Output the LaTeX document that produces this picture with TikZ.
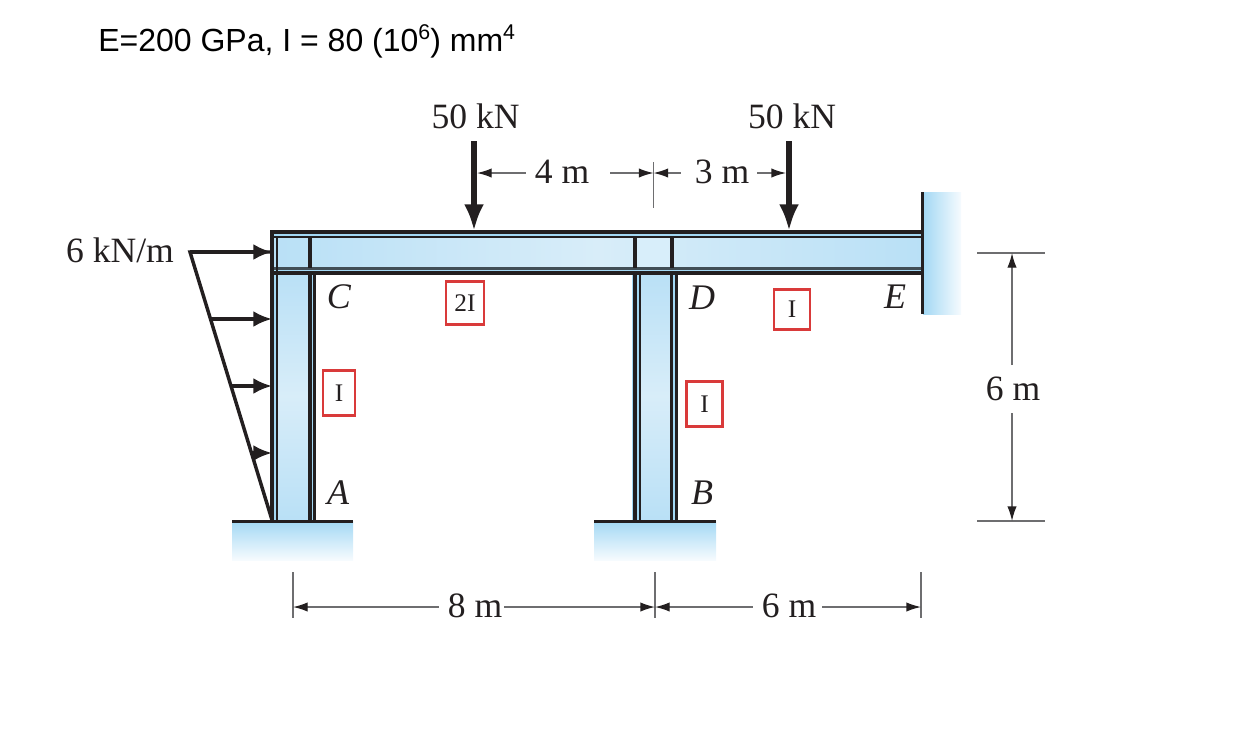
\documentclass[tikz,border=0pt]{standalone}
\usepackage{fontspec}
\setmainfont{Liberation Serif}
\newfontfamily\hdfont{Liberation Sans}
\usetikzlibrary{arrows.meta}
\definecolor{ink}{HTML}{231F20}
\definecolor{dimc}{HTML}{6E6E70}
\definecolor{boxred}{HTML}{D93A3A}
\definecolor{sky}{HTML}{B9E0F6}
\definecolor{skypale}{HTML}{D8EDF9}
\definecolor{skydeep}{HTML}{A3D8F4}
\definecolor{skyfade}{HTML}{F6FBFE}
\newcommand{\hdsup}[1]{\raisebox{0.36em}{\fontsize{16}{18}\selectfont #1}}
\tikzset{
  x=0.75pt,y=-0.75pt,
  barline/.style={fill=ink,draw=none},
  lbl/.style={font=\fontsize{26.7}{30}\selectfont,text=ink,inner sep=0pt},
  pointlbl/.style={font=\fontsize{27}{30}\selectfont\itshape,text=ink,inner sep=0pt},
  redbox/.style={draw=boxred,line width=2.2pt,fill=white,inner sep=0pt,font=\fontsize{19}{22}\selectfont,text=ink},
  dimline/.style={draw=dimc,line width=1pt,-{Latex[length=11pt,width=7pt,color=ink]}},
  dimtick/.style={draw=dimc,line width=1pt},
  loadline/.style={draw=ink,line width=2.6pt,-{Latex[length=14pt,width=12pt]}},
  bigarrow/.style={draw=ink,line width=4.8pt,-{Latex[length=20pt,width=15pt]}},
}
\begin{document}
\begin{tikzpicture}
\useasboundingbox (0,0) rectangle (1238,740);
\node[anchor=base west,inner sep=0pt,font=\hdfont\fontsize{24}{26}\selectfont] (head) at (98,51) {E=200 GPa, I = 80 (10\hdsup{6}) mm\hdsup{4}};

% supports
\shade[top color=skydeep,bottom color=skyfade] (232,521) rectangle (353,560);
\shade[top color=skydeep,bottom color=skyfade] (594,521) rectangle (716,560);
\shade[left color=skydeep,right color=skyfade] (923,192) rectangle (961,314);

% columns
\fill[skydeep] (270,272) rectangle (316,520);
\fill[skydeep] (632,272) rectangle (678,520);
\shade[top color=sky,bottom color=sky,middle color=skypale] (277,272) rectangle (309,520);
\shade[top color=sky,bottom color=sky,middle color=skypale] (639,272) rectangle (671,520);
% beam
\fill[skydeep] (270,230) rectangle (922,275);
\shade[left color=sky,right color=sky,middle color=skypale] (274,238) rectangle (922,268);
\fill[white!45!sky] (636,238) rectangle (671,268);

% beam flanges
\fill[barline] (270,230) rectangle (922,233.6);
\fill[barline] (272,236) rectangle (922,238.3);
\fill[black!65!sky] (274,267) rectangle (922,269.5);
\fill[barline] (270,271.3) rectangle (922,275);
\fill[barline] (270,230) rectangle (274,275);
% joint stiffeners
\fill[barline] (276,236) rectangle (277.7,271.5);
\fill[barline] (308,236) rectangle (312,268);
\fill[barline] (632.5,236) rectangle (636.7,268);
\fill[barline] (670,236) rectangle (674,268);
% column webs
\foreach \xa/\xb in {270/274,276/278,308/312,313.3/316.3,632.5/636.7,639/641,670/673.3,675.3/678}
  \fill[barline] (\xa,271.5) rectangle (\xb,520);

% seats
\fill[barline] (232,519.5) rectangle (353,522.5);
\fill[barline] (594,519.5) rectangle (716,522.5);
\fill[barline] (921,192) rectangle (924,314);

% point labels
\node[pointlbl] (C) at (339,297) {C};
\node[pointlbl] (A) at (338,493) {A};
\node[pointlbl] (D) at (702,298) {D};
\node[pointlbl] (B) at (702,493) {B};
\node[pointlbl] (E) at (895,297) {E};

% section boxes
\node[redbox,minimum width=28.5pt,minimum height=32pt] (boxtwo) at (465,303) {2I};
\node[redbox,minimum width=27pt,minimum height=29.5pt] (boxde) at (792,309.5) {I};
\node[redbox,minimum width=24pt,minimum height=33.5pt] (boxac) at (339,393) {I};
\node[redbox,minimum width=26.5pt,minimum height=33.5pt] (boxbd) at (704.5,404) {I};

% distributed load
\coordinate (qtop) at (190,252);
\coordinate (qbot) at (272,520);
\coordinate (q1) at (272,252);
\coordinate (q2) at (272,319);
\coordinate (q3) at (272,386);
\coordinate (q4) at (272,453);
\coordinate (s2) at (210.5,319);
\coordinate (s3) at (231,386);
\coordinate (s4) at (251.5,453);
\draw[draw=ink,line width=2.6pt,line join=miter] (q1) -- (qtop) -- (qbot);
\draw[loadline] (qtop) -- (q1);
\draw[loadline] (s2) -- (q2);
\draw[loadline] (s3) -- (q3);
\draw[loadline] (s4) -- (q4);
\node[lbl] (qlab) at (120,250) {6 kN/m};

% point loads
\coordinate (p1s) at (474,141);
\coordinate (p1e) at (474,231);
\coordinate (p2s) at (789,141);
\coordinate (p2e) at (789,231);
\draw[bigarrow] (p1s) -- (p1e);
\draw[bigarrow] (p2s) -- (p2e);
\node[lbl] (load1) at (475.5,116) {50 kN};
\node[lbl] (load2) at (792,116) {50 kN};

% top dimensions
\node[lbl] (dim4) at (562,172) {4 m};
\node[lbl] (dim3) at (722,172) {3 m};
\coordinate (t1) at (653.5,162);
\coordinate (t2) at (653.5,208);
\coordinate (tm) at (653.5,173);
\coordinate (ta) at (477,173);
\coordinate (tb) at (786,173);
\draw[dimtick] (t1) -- (t2);
\draw[dimline] (dim4.west |- tm) ++(-9,0) coordinate (l4) -- (ta);
\draw[dimline] (dim4.east |- tm) ++(21,0) coordinate (r4) -- (tm);
\draw[dimline] (dim3.west |- tm) ++(-14,0) coordinate (l3) -- (tm);
\draw[dimline] (dim3.east |- tm) ++(8,0) coordinate (r3) -- (tb);

% bottom dimensions
\node[lbl] (dim8) at (475,606) {8 m};
\node[lbl] (dim6b) at (789,606) {6 m};
\coordinate (b1a) at (293,572); \coordinate (b1b) at (293,618);
\coordinate (b2a) at (655,572); \coordinate (b2b) at (655,618);
\coordinate (b3a) at (921,572); \coordinate (b3b) at (921,618);
\draw[dimtick] (b1a) -- (b1b);
\draw[dimtick] (b2a) -- (b2b);
\draw[dimtick] (b3a) -- (b3b);
\coordinate (bl) at (293,607); \coordinate (bm) at (655,607); \coordinate (br) at (921,607);
\draw[dimline] (dim8.west |- bl) ++(-9,0) coordinate (l8) -- (bl);
\draw[dimline] (dim8.east |- bl) ++(2,0) coordinate (r8) -- (bm);
\draw[dimline] (dim6b.west |- bl) ++(-9,0) coordinate (l6) -- (bm);
\draw[dimline] (dim6b.east |- bl) ++(6,0) coordinate (r6) -- (br);

% right dimension
\node[lbl] (dim6r) at (1013,389) {6 m};
\coordinate (r1a) at (977,253); \coordinate (r1b) at (1045,253);
\coordinate (r2a) at (977,521); \coordinate (r2b) at (1045,521);
\draw[dimtick] (r1a) -- (r1b);
\draw[dimtick] (r2a) -- (r2b);
\coordinate (rt) at (1012,253); \coordinate (rb) at (1012,521);
\coordinate (rts) at (1012,365); \coordinate (rbs) at (1012,413);
\draw[dimline] (rts) -- (rt);
\draw[dimline] (rbs) -- (rb);
\end{tikzpicture}
\end{document}
